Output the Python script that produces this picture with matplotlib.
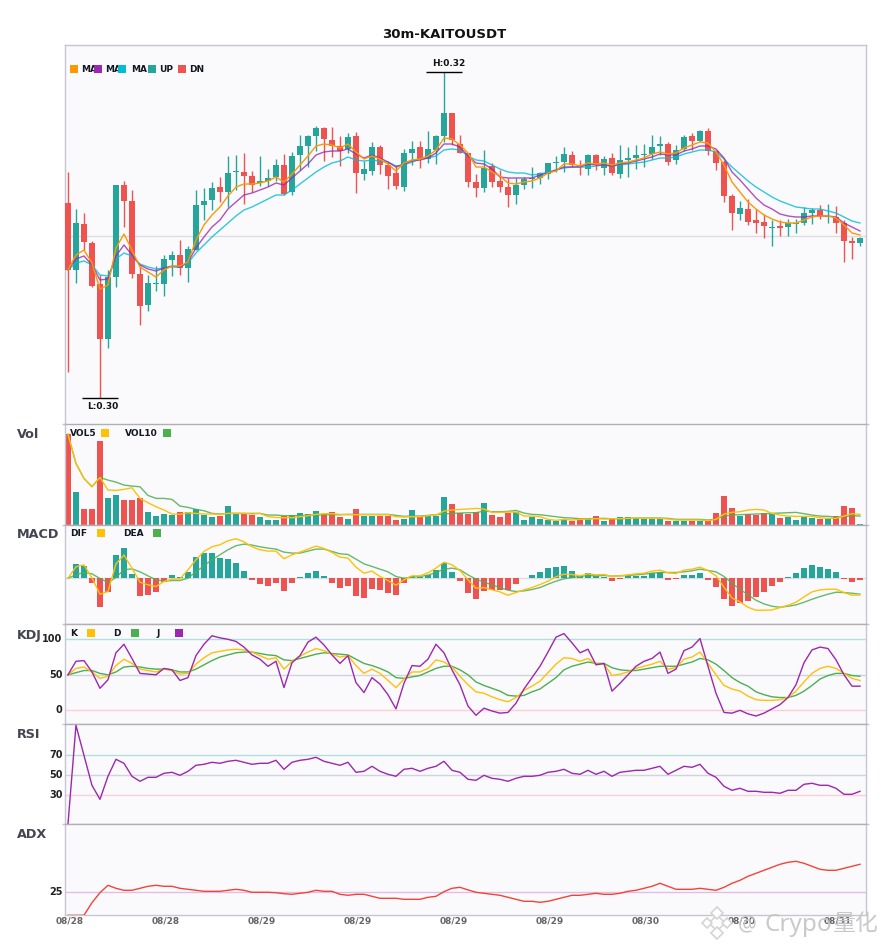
import numpy as np
import matplotlib
matplotlib.use('Agg')
import matplotlib.pyplot as plt
from matplotlib.lines import Line2D
from matplotlib.patches import Rectangle

# prices kept as ticks above 0.30, 162 ticks = 0.01
BASE = 0.30
TICK = 0.01 / 162

opens = [195,128,174,155,114,59,121,213,197,124,93,114,114,138,143,130,148,193,198,211,206,226,226,222,215,217,221,233,206,243,
         252,262,270,258,252,249,262,224,227,251,233,225,211,245,251,239,248,262,285,254,245,216,210,232,217,211,203,213,219,220,
         224,235,236,243,233,229,243,230,240,224,238,240,243,244,252,254,238,249,262,257,267,247,236,202,184,189,178,176,170,172,
         171,174,175,185,188,181,181,175,157,155]
closes = [128,175,156,112,59,121,213,197,124,92,115,115,139,143,130,149,193,197,210,206,225,227,222,213,217,220,233,204,242,252,
          262,270,259,252,247,261,225,229,251,233,222,212,245,249,239,249,262,285,258,245,216,210,230,216,211,203,213,219,220,225,
          235,236,244,233,231,243,233,239,225,238,240,243,244,251,254,236,248,261,257,267,247,235,202,185,190,176,175,172,171,170,
          175,175,185,188,182,182,175,157,155,160]
highs = [226,189,185,157,123,128,213,217,208,132,123,132,143,147,158,152,208,210,216,221,242,243,245,227,242,229,239,244,246,263,
         263,272,271,271,262,265,266,237,256,253,236,233,249,257,257,267,263,326,285,263,245,224,248,235,228,220,220,221,231,226,
         235,242,251,247,238,244,244,242,245,253,251,253,254,263,262,256,253,263,265,268,270,248,238,204,197,199,189,184,178,178,
         179,179,191,190,193,194,192,178,161,161]
lows = [26,115,148,111,0,50,111,171,120,73,87,107,102,122,123,116,148,178,188,196,191,208,194,206,212,212,217,203,203,228,
        231,247,237,241,232,245,205,218,223,224,209,209,207,233,230,235,234,256,253,245,211,201,206,211,206,191,194,209,210,214,
        219,226,226,231,223,223,228,223,223,220,221,229,231,239,243,233,234,247,248,256,243,228,196,168,178,173,165,160,152,162,
        162,165,173,174,179,175,165,136,139,152]

ma5 = [128,143,148,135,109,113,150,164,148,131,126,121,128,132,132,136,158,173,183,191,202,211,214,214,215,217,221,216,224,233,
       242,252,254,253,250,254,246,239,242,239,234,227,235,238,239,242,248,260,259,253,245,231,231,226,222,215,214,216,217,220,
       225,227,234,234,232,235,234,235,233,235,236,238,240,244,246,244,245,250,253,256,255,246,233,216,206,196,189,183,179,176,
       175,175,178,181,182,182,180,173,165,163]
ma10 = [128,139,142,133,118,119,142,153,143,133,129,127,130,132,131,136,150,161,171,178,189,196,203,205,208,211,215,213,220,227,
        234,243,246,247,247,249,244,240,243,240,236,231,234,237,238,240,245,254,254,251,242,235,234,229,221,220,220,220,220,223,
        225,228,231,231,231,234,233,233,232,234,235,237,239,241,244,243,243,247,249,252,252,249,240,226,218,209,200,193,189,184,
        182,181,181,182,182,182,181,175,171,167]
ma20 = [128,135,137,133,123,122,139,145,142,134,131,129,130,131,131,135,145,153,161,168,175,182,188,191,195,199,203,203,208,214,
        220,226,231,235,237,241,238,237,238,237,236,232,233,236,239,240,242,248,249,248,242,238,237,233,229,226,225,225,223,224,
        226,228,230,231,231,231,232,233,232,233,234,235,236,238,240,240,241,244,246,248,248,246,239,231,224,217,211,206,201,197,
        194,191,190,189,189,187,185,181,177,175]

vol = [272,98,47,47,251,80,89,74,74,80,38,26,32,29,38,38,47,29,23,26,56,32,32,29,23,14,14,26,29,35,
       32,41,32,38,23,17,47,26,26,26,26,14,17,44,23,29,26,83,62,35,32,38,65,29,23,35,38,14,23,17,
       14,11,14,11,14,20,26,11,17,23,23,20,20,20,20,11,11,11,11,11,11,35,86,50,26,32,29,35,32,20,
       23,14,23,20,17,17,26,56,50,2]
vol5 = [272,184,139,114,142,104,103,106,111,79,66,54,44,32,31,36,34,32,32,31,34,34,34,32,34,24,22,21,21,24,
        27,31,33,33,31,30,30,30,30,30,30,24,23,24,24,27,29,41,44,46,47,49,47,37,37,38,38,26,26,24,
        16,13,16,14,16,17,18,17,18,18,19,20,19,19,19,17,14,14,14,14,12,16,32,37,39,44,46,44,34,29,
        26,25,25,25,21,19,19,26,33,31]
vol10 = [272,184,139,114,142,134,128,119,116,114,88,79,79,76,56,52,46,42,34,32,34,34,34,34,34,29,29,27,27,27,
         29,29,30,30,30,31,31,31,31,31,31,28,25,26,26,28,30,32,34,35,36,36,41,39,39,40,43,35,31,30,
         27,24,21,20,18,18,19,19,18,18,19,20,20,20,20,19,16,16,16,16,14,17,26,29,30,31,32,33,34,35,
         36,37,33,29,26,25,23,24,27,26]

hist = [0,43,37,-14,-86,-41,70,91,13,-53,-50,-41,-11,10,4,19,64,76,76,61,58,46,22,-5,-17,-23,-14,-38,-14,3,
        16,22,7,-14,-29,-23,-53,-59,-32,-35,-44,-50,-14,7,4,10,25,46,19,-8,-44,-62,-38,-35,-35,-35,-17,0,10,19,
        31,34,37,22,7,15,7,4,-8,-2,7,7,7,15,19,-5,-2,10,10,16,-5,-26,-62,-83,-74,-68,-56,-41,-23,-11,
        4,16,31,40,34,28,19,-2,-11,-5]
dif = [0,34,40,1,-48,-40,43,69,30,-12,-20,-25,-10,-3,-2,25,55,80,94,100,112,118,109,94,85,81,81,58,70,78,
       87,96,89,77,63,60,33,15,21,5,-7,-21,-5,7,7,16,30,48,40,23,-5,-30,-28,-35,-41,-51,-43,-35,-28,-19,
       -9,4,12,11,7,13,10,11,5,7,10,13,15,21,24,16,14,24,27,33,23,7,-27,-59,-71,-87,-96,-96,-95,-88,
       -81,-72,-56,-41,-35,-33,-33,-43,-51,-50]
dea = [0,10,17,13,-1,-13,2,25,28,19,7,-5,-9,-7,-7,0,19,37,55,70,85,97,102,99,94,90,87,78,75,75,
       81,87,87,80,73,71,57,43,35,27,19,5,0,3,5,9,17,27,30,25,10,-3,-12,-20,-28,-36,-40,-38,-34,-28,
       -18,-9,-2,2,5,8,7,8,6,7,8,10,12,15,17,17,17,19,22,27,23,19,5,-15,-33,-50,-66,-77,-84,-87,
       -84,-80,-72,-63,-55,-48,-42,-43,-45,-48]

k = [50,59,61,54,45,48,63,72,66,58,56,54,58,56,51,52,65,74,81,83,85,86,85,82,77,72,74,58,69,76,
     82,87,84,79,75,77,63,52,58,52,42,32,44,54,54,59,71,68,61,48,36,26,24,19,15,12,18,28,34,41,
     53,65,74,73,69,73,65,65,49,51,54,59,62,65,69,58,60,72,75,82,66,50,35,30,27,20,15,14,14,15,
     18,27,40,52,59,62,59,52,45,42]
d = [50,53,56,56,52,50,54,61,62,61,59,58,58,57,54,54,58,64,70,75,78,81,82,82,80,78,77,71,70,73,
     76,79,81,80,79,78,72,66,63,59,54,46,45,47,49,54,59,62,62,57,50,40,35,31,27,21,20,21,26,30,
     38,46,57,62,65,68,66,66,60,57,56,56,58,60,62,62,62,65,68,73,71,65,56,46,39,34,26,22,19,18,
     18,21,27,35,44,49,52,52,49,48]
j = [50,69,70,54,31,43,81,93,73,52,51,50,59,57,42,46,77,93,105,102,100,97,89,78,72,62,69,32,67,77,
     96,103,92,78,66,77,39,25,46,37,22,2,38,63,62,72,93,81,57,36,6,-7,3,-1,-4,-3,10,30,46,62,
     82,103,108,95,81,86,64,66,27,38,50,62,69,73,82,52,58,84,89,101,62,24,-3,-4,0,-5,-8,-4,2,8,
     18,36,67,85,89,87,71,50,34,34]

rsi = [1,100,70,40,26,49,66,62,49,44,48,48,52,53,50,54,60,61,63,62,64,65,63,61,62,62,65,56,63,65,
       66,68,64,62,60,63,53,54,59,54,51,49,56,57,54,57,59,64,55,53,46,45,50,47,46,44,47,49,49,50,
       53,54,56,52,51,55,51,54,49,53,54,55,55,57,59,51,55,59,58,61,52,48,39,35,37,34,34,33,33,32,
       35,35,41,42,40,40,37,31,31,34]
adx = [13.5,13.5,13.5,19.8,24.8,28.5,27,26,26,27,28,28.5,28,28,27,26.5,26,25.5,25.5,25.5,26,26.5,26,25,25,25,24.8,24.3,24,24.5,
       25,26,25.5,25.5,24,23.5,24,24,23,22,22,22,21.5,21.5,21.5,22.5,23,25.3,27,27.5,26.2,25,24.5,24,23.5,22.5,21.5,20.5,20.5,20,
       20.5,21.5,22.5,23.5,23.5,24,24.5,24,24,24.5,25.5,26,27,28,29.5,28,26.5,26.5,26.5,27,26.5,26,27.5,29.5,31,33,34.5,36,37.5,39,
       40,40.5,39.5,38,36.5,36,36,37,38,39]

date_ticks = [0,12,24,36,48,60,72,84,96]
date_labels = ['08/28','08/28','08/29','08/29','08/29','08/29','08/30','08/30','08/31']

UP = '#26a69a'
DN = '#ef5350'
ORANGE = '#ff9800'
PURPLE = '#9c27b0'
CYAN = '#00bcd4'
YELLOW = '#ffc107'
GREEN = '#4caf50'
BG = '#fafafd'
LABEL = '#434651'
BODY = 0.75

W, H = 885, 950
x = np.arange(len(opens))
price = lambda a: BASE + TICK * np.array(a, dtype=float)
o, c, hi, lo = price(opens), price(closes), price(highs), price(lows)
is_up = c >= o
bar_colors = [UP if u else DN for u in is_up]


def make_ax(top, bottom, top_color='#b0b0b0'):
    ax = fig.add_axes([65.4 / W, 1 - bottom / H, 800.2 / W, (bottom - top) / H])
    ax.set_facecolor(BG)
    ax.set_xlim(-0.32, 99.7)
    ax.set_xticks([])
    ax.set_yticks([])
    for s in ax.spines.values():
        s.set_color('#c4c6d0')
        s.set_linewidth(1)
    ax.spines['top'].set_color(top_color)
    return ax


def hline(ax, y, color):
    ax.axhline(y, color=color, lw=1, zorder=1)


def end_tick(ax):
    # tiny marks at the top of each lower panel, both sides
    ax.set_yticks([ax.get_ylim()[1]])
    ax.set_yticklabels([])
    ax.tick_params(axis='y', length=2, width=1, color='#c4c6d0', left=True, right=True)


def ylabels(ax, vals):
    for v in vals:
        ax.annotate(str(v), (0, v), xycoords=ax.get_yaxis_transform(), xytext=(-2, 0),
                    textcoords='offset points', ha='right', va='center',
                    fontsize=7, fontweight='bold', color='#222222')


def legend(ax, items, y_px):
    # items: text, text left px, square left px, colour
    for name, tx, sx, col in items:
        fig.text(tx / W, 1 - y_px / H, name, fontsize=6.5, fontweight='bold',
                 color='#131722', ha='left', va='center')
        fig.patches.append(Rectangle((sx / W, 1 - (y_px + 4) / H), 8 / W, 8 / H,
                                     transform=fig.transFigure, facecolor=col, edgecolor='none', zorder=5))


fig = plt.figure(figsize=(W / 100, H / 100), dpi=100, facecolor='white')
fig.text(444 / W, 1 - 34 / H, '30m-KAITOUSDT', fontsize=9.5, fontweight='bold',
         color='#111111', ha='center', va='center')

# main candles
ax0 = make_ax(45, 424.5, top_color='#c4c6d0')
ax0.set_ylim(price(-26.5), price(353))
hline(ax0, 0.31, '#dcdce2')
ax0.vlines(x, lo, hi, colors=bar_colors, lw=1, zorder=2, snap=True)
ax0.bar(x, np.maximum(np.abs(c - o), TICK), bottom=np.minimum(o, c), width=BODY,
        color=bar_colors, zorder=3)
ax0.plot(x, price(ma20), color=CYAN, lw=1, alpha=0.8, zorder=4)
ax0.plot(x, price(ma10), color=PURPLE, lw=1, alpha=0.8, zorder=5)
ax0.plot(x, price(ma5), color=ORANGE, lw=1, zorder=6)
imax = int(np.argmax(hi))
imin = int(np.argmin(lo))
ax0.hlines(hi[imax], imax - 2.25, imax + 2.25, color='black', lw=1, zorder=7)
ax0.hlines(lo[imin], imin - 2.25, imin + 2.25, color='black', lw=1, zorder=7)
ax0.annotate('H:%.2f' % hi[imax], (imax + 0.6, hi[imax]), xytext=(0, 3), textcoords='offset points',
             ha='center', va='bottom', fontsize=6.5, fontweight='bold', color='#111111')
ax0.annotate('L:%.2f' % lo[imin], (imin + 0.4, lo[imin]), xytext=(0, -3), textcoords='offset points',
             ha='center', va='top', fontsize=6.5, fontweight='bold', color='#111111')
legend(ax0, [('MA', 81, 70, ORANGE), ('MA', 105, 94, PURPLE), ('MA', 131, 118, CYAN),
             ('UP', 159, 148, UP), ('DN', 189, 178, DN)], 69)

# volume
ax1 = make_ax(424.5, 524.7)
ax1.set_ylim(0, 301)
ax1.bar(x, vol, width=BODY, color=bar_colors, zorder=2)
ax1.plot(x, vol10, color=GREEN, lw=1, alpha=0.85, zorder=3)
ax1.plot(x, vol5, color=YELLOW, lw=1, zorder=4)
legend(ax1, [('VOL5', 70, 101, YELLOW), ('VOL10', 125, 163, GREEN)], 433)
end_tick(ax1)

# macd
ax2 = make_ax(524.7, 624.3)
ax2.set_ylim(-138, 160)
hline(ax2, 0, '#dcdce2')
ax2.bar(x, hist, width=BODY, color=[UP if v >= 0 else DN for v in hist], zorder=2)
ax2.plot(x, dea, color=GREEN, lw=1, alpha=0.85, zorder=3)
ax2.plot(x, dif, color=YELLOW, lw=1, zorder=4)
legend(ax2, [('DIF', 70, 97, YELLOW), ('DEA', 123, 153, GREEN)], 533)
end_tick(ax2)

# kdj
ax3 = make_ax(624.3, 724.3)
ax3.set_ylim(-19.7, 121.1)
hline(ax3, 100, '#b2dfdb')
hline(ax3, 50, '#d1d4dc')
hline(ax3, 0, '#ffcdd2')
ax3.plot(x, d, color=GREEN, lw=1, zorder=3)
ax3.plot(x, k, color=YELLOW, lw=1, zorder=4)
ax3.plot(x, j, color=PURPLE, lw=1, zorder=5)
end_tick(ax3)
ylabels(ax3, [100, 50, 0])
legend(ax3, [('K', 70, 87, YELLOW), ('D', 113, 131, GREEN), ('J', 156, 175, PURPLE)], 633)

# rsi
ax4 = make_ax(724.3, 824.3)
ax4.set_ylim(1, 101)
hline(ax4, 70, '#b2dfdb')
hline(ax4, 50, '#d1d4dc')
hline(ax4, 30, '#ffcdd2')
ax4.plot(x, rsi, color=PURPLE, lw=1, zorder=3)
end_tick(ax4)
ylabels(ax4, [70, 50, 30])

# adx
ax5 = make_ax(824.3, 915.3)
ax5.set_ylim(13.5, 59)
hline(ax5, 25, '#e1bee7')
ax5.plot(x, adx, color='#f44336', lw=1, zorder=3)
end_tick(ax5)
ylabels(ax5, [25])
ax5.set_xticks(np.array(date_ticks) + 0.25)
ax5.set_xticklabels(date_labels, fontsize=6.5, fontweight='bold', color='#666666')
ax5.tick_params(axis='x', length=0, pad=1)

for name, y_px in [('Vol', 435), ('MACD', 535), ('KDJ', 635), ('RSI', 735), ('ADX', 835)]:
    fig.text(17 / W, 1 - y_px / H, name, fontsize=9.2, fontweight='bold', color=LABEL,
             ha='left', va='center')

# watermark over the bottom right corner, it sits on the last date labels in the source too
WM = '#c4c4c4'
fig.text(764 / W, 1 - 925 / H, 'Crypo', family=['Noto Sans', 'DejaVu Sans'], fontsize=17.5,
         color=WM, alpha=0.9, va='center', ha='left', zorder=20)
fig.text(833 / W, 1 - 924 / H, '量化', family=['Noto Sans CJK SC', 'DejaVu Sans'], fontsize=16.5,
         color=WM, alpha=0.9, va='center', ha='left', zorder=20)
fig.text(738 / W, 1 - 925 / H, '@', family=['Noto Sans', 'DejaVu Sans'], fontsize=15, color=WM,
         alpha=0.9, va='center', ha='left', zorder=20)
for mx, my, ms in [(717, 923, 8), (707, 923, 5), (727, 923, 5), (717, 913, 6), (717, 933, 6)]:
    fig.add_artist(Line2D([mx / W], [1 - my / H], marker='D', ms=ms, mfc='white', mec='#d4d4d4',
                          mew=1.2, ls='none', transform=fig.transFigure, zorder=19))

fig.savefig('out.png', dpi=100)
